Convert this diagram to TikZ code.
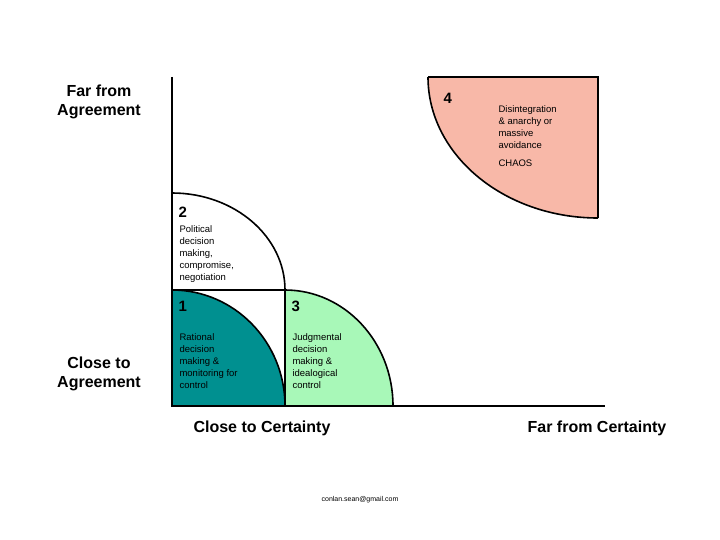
\documentclass[tikz,border=0pt]{standalone}
\usepackage{fontspec}
\setmainfont{Liberation Sans}
\definecolor{teal1}{HTML}{009090}
\definecolor{green1}{HTML}{A8F8B8}
\definecolor{salmon}{HTML}{F8B8A8}
\begin{document}
\begin{tikzpicture}[x=1pt,y=-1pt,
  big/.style={font=\bfseries\fontsize{16}{19}\selectfont},
  num/.style={font=\bfseries\fontsize{15}{18}\selectfont,anchor=west},
  small/.style={font=\fontsize{9.5}{12}\selectfont,align=left,anchor=north west},
  edge/.style={line width=1.6pt}]
\useasboundingbox (0,0) rectangle (720,540);
% region 4
\fill[salmon] (428,77) -- (598,77) -- (598,218) arc[start angle=270,end angle=180,x radius=170,y radius=-141];
\draw[edge] (428,77) -- (598,77) -- (598,218);
\draw[edge] (598,218) arc[start angle=270,end angle=180,x radius=170,y radius=-141];
% region 2
\draw[edge] (172,193) arc[start angle=90,end angle=0,x radius=113,y radius=-97];
\draw[edge] (172,290) -- (285,290);
% region 1
\fill[teal1] (172,406) -- (172,290) arc[start angle=90,end angle=0,x radius=113,y radius=-116] -- cycle;
\draw[edge] (172,290) arc[start angle=90,end angle=0,x radius=113,y radius=-116];
% region 3
\fill[green1] (285,406) -- (285,290) arc[start angle=90,end angle=0,x radius=108,y radius=-116] -- cycle;
\draw[edge] (285,290) arc[start angle=90,end angle=0,x radius=108,y radius=-116];
\draw[edge] (285,290) -- (285,406);
% axes
\draw[line width=2.4pt] (172,77) -- (172,406) -- (605,406);
% labels
\node[big,align=center] (fa) at (99,102) {Far from\\Agreement};
\node[big,align=center] (ca) at (99,374) {Close to\\Agreement};
\node[big] (cc) at (262,428) {Close to Certainty};
\node[big] (fc) at (597,428) {Far from Certainty};
\node[num] (n4) at (440,98) {4};
\node[num] (n2) at (175,212) {2};
\node[num] (n1) at (175,306) {1};
\node[num] (n3) at (288,306) {3};
\node[small] (t4) at (495,102) {Disintegration\\\& anarchy or\\massive\\avoidance};
\node[small] (ch) at (495,156) {CHAOS};
\node[small] (t2) at (176,222) {Political\\decision\\making,\\compromise,\\negotiation};
\node[small] (t1) at (176,330) {Rational\\decision\\making \&\\monitoring for\\control};
\node[small] (t3) at (289,330) {Judgmental\\decision\\making \&\\idealogical\\control};
\node[font=\fontsize{7}{8}\selectfont] (em) at (360,500) {conlan.sean@gmail.com};
\end{tikzpicture}
\end{document}
